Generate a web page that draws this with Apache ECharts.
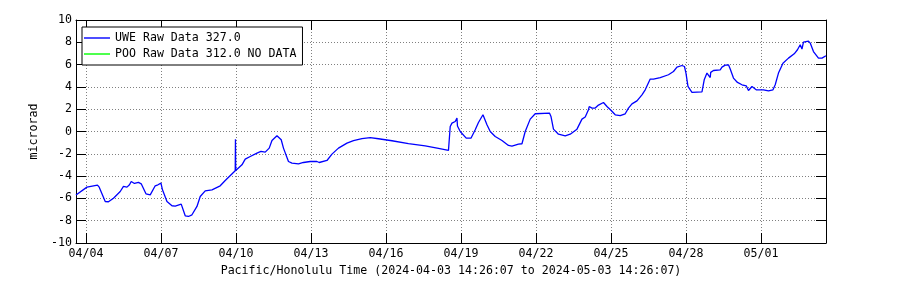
<!DOCTYPE html>
<html>
<head>
<meta charset="utf-8">
<script src="https://cdn.jsdelivr.net/npm/echarts@6/dist/echarts.min.js"></script>
<style>html,body{margin:0;padding:0;background:#fff}#c{width:900px;height:300px}</style>
</head>
<body>
<div id="c"></div>
<script>
// Days since 2024-04-04 00:00 (Pacific/Honolulu)
const xMin = -0.39853; // 2024-04-03 14:26:07
const xMax = 29.60147; // 2024-05-03 14:26:07
const tickDays = [0, 3, 6, 9, 12, 15, 18, 21, 24, 27];
const tickLabels = ['04/04', '04/07', '04/10', '04/13', '04/16', '04/19', '04/22', '04/25', '04/28', '05/01'];
const seriesNames = ['UWE Raw Data 327.0', 'POO Raw Data 312.0 NO DATA'];
const uweDays = [
  -0.40, 0.04, 0.10, 0.46, 0.53, 0.77, 0.90, 1.10, 1.37, 1.50, 1.64, 1.74, 1.81, 1.94, 2.10, 2.21,
  2.40, 2.57, 2.77, 2.88, 3.00, 3.06, 3.24, 3.44, 3.57, 3.81, 3.86, 3.97, 4.10, 4.24, 4.44, 4.57,
  4.77, 5.04, 5.37, 5.57, 5.97, 5.98, 5.99, 6.24, 6.37, 6.57, 6.84, 7.00, 7.17, 7.33, 7.44, 7.64,
  7.81, 7.90, 8.10, 8.24, 8.50, 8.70, 8.97, 9.24, 9.33, 9.64, 9.84, 10.10, 10.44, 10.70, 11.04, 11.37,
  11.70, 12.24, 12.90, 13.57, 14.10, 14.50, 14.57, 14.64, 14.77, 14.84, 14.86, 14.97, 15.21, 15.40,
  15.57, 15.70, 15.88, 15.93, 16.04, 16.17, 16.37, 16.64, 16.90, 17.04, 17.30, 17.44, 17.57, 17.77,
  17.97, 18.54, 18.60, 18.70, 18.90, 19.17, 19.37, 19.64, 19.84, 19.97, 20.10, 20.13, 20.24, 20.37,
  20.50, 20.70, 20.84, 21.01, 21.17, 21.37, 21.57, 21.70, 21.84, 22.04, 22.24, 22.37, 22.57, 22.70,
  22.97, 23.30, 23.50, 23.64, 23.84, 23.94, 24.00, 24.08, 24.24, 24.64, 24.73, 24.84, 24.90, 24.97,
  24.99, 25.10, 25.37, 25.44, 25.57, 25.70, 25.77, 25.90, 26.06, 26.24, 26.41, 26.50, 26.64, 26.81,
  27.10, 27.30, 27.48, 27.57, 27.70, 27.88, 28.10, 28.33, 28.46, 28.57, 28.64, 28.70, 28.90, 28.97,
  29.10, 29.30, 29.44, 29.60
];
const uweValues = [
  -5.70, -4.99, -4.87, -4.81, -4.99, -6.28, -6.30, -5.98, -5.38, -4.93, -4.99, -4.78, -4.48, -4.66, -4.57, -4.69,
  -5.59, -5.68, -4.87, -4.78, -4.63, -5.23, -6.28, -6.66, -6.69, -6.51, -6.51, -7.56, -7.62, -7.47, -6.72, -5.83,
  -5.32, -5.23, -4.87, -4.39, -3.52, -0.70, -3.50, -2.99, -2.48, -2.24, -1.94, -1.79, -1.85, -1.49, -0.81, -0.39,
  -0.74, -1.49, -2.69, -2.84, -2.90, -2.78, -2.69, -2.69, -2.78, -2.60, -2.03, -1.49, -1.04, -0.81, -0.63, -0.54,
  -0.65, -0.83, -1.08, -1.28, -1.52, -1.70, 0.45, 0.75, 0.90, 1.20, 0.50, 0.00, -0.60, -0.60,
  0.15, 0.81, 1.50, 1.40, 0.60, 0.00, -0.45, -0.81, -1.25, -1.31, -1.13, -1.10, 0.00, 1.11,
  1.59, 1.65, 1.35, 0.21, -0.24, -0.39, -0.24, 0.21, 1.11, 1.30, 1.95, 2.24, 2.10, 2.10,
  2.37, 2.60, 2.24, 1.88, 1.50, 1.43, 1.59, 2.10, 2.48, 2.75, 3.29, 3.74, 4.70, 4.70,
  4.84, 5.09, 5.38, 5.77, 5.92, 5.83, 5.24, 4.04, 3.50, 3.56, 4.64, 5.24, 5.24, 4.84,
  5.30, 5.47, 5.53, 5.77, 5.95, 5.98, 5.60, 4.79, 4.40, 4.19, 4.10, 3.68, 4.04, 3.74,
  3.74, 3.65, 3.74, 4.19, 5.24, 6.13, 6.58, 6.97, 7.33, 7.78, 7.39, 8.02, 8.11, 7.93,
  7.17, 6.58, 6.58, 6.79
];
const pooValues = [];

const FONT = 'DejaVu Sans Mono';
const FS = 11.6;
const chart = echarts.init(document.getElementById('c'), null, { renderer: 'canvas' });
const gridLine = { show: true, lineStyle: { color: '#808080', width: 1, type: [1, 2] } };
const tickStyle = { show: true, inside: true, length: 10, lineStyle: { color: '#000', width: 1 } };
const frameLine = { show: true, onZero: false, lineStyle: { color: '#000', width: 1 } };
chart.setOption({
  animation: false,
  backgroundColor: '#fff',
  textStyle: { fontFamily: FONT, fontSize: FS, color: '#000' },
  grid: { left: 76, right: 74, top: 20, bottom: 57, show: false, outerBoundsMode: 'none', containLabel: false },
  legend: {
    left: 82, top: 27, orient: 'vertical',
    backgroundColor: '#fff', borderColor: '#000', borderWidth: 1,
    padding: [4, 6, 4, 2], itemGap: 2, itemWidth: 26, itemHeight: 1.4,
    icon: 'rect',
    textStyle: { fontFamily: FONT, fontSize: FS, color: '#000', lineHeight: 14 },
    data: seriesNames
  },
  xAxis: [{
    type: 'value', position: 'bottom', min: xMin, max: xMax,
    name: 'Pacific/Honolulu Time (2024-04-03 14:26:07 to 2024-05-03 14:26:07)',
    nameLocation: 'middle', nameGap: 16,
    nameTextStyle: { fontFamily: FONT, fontSize: FS, color: '#000' },
    axisLine: frameLine,
    axisTick: Object.assign({ customValues: tickDays }, tickStyle),
    axisLabel: {
      customValues: tickDays, margin: 5, fontFamily: FONT, fontSize: FS, color: '#000',
      formatter: v => { const i = tickDays.findIndex(t => Math.abs(t - v) < 1e-6); return i >= 0 ? tickLabels[i] : ''; }
    },
    splitLine: gridLine
  }, {
    type: 'value', position: 'top', min: xMin, max: xMax,
    axisLine: frameLine,
    axisTick: Object.assign({ customValues: tickDays }, tickStyle),
    axisLabel: { show: false },
    splitLine: { show: false }
  }],
  yAxis: [{
    type: 'value', position: 'left', min: -10, max: 10, interval: 2,
    name: 'microrad', nameLocation: 'middle', nameGap: 36,
    nameTextStyle: { fontFamily: FONT, fontSize: FS, color: '#000' },
    axisLine: frameLine,
    axisTick: tickStyle,
    axisLabel: { margin: 4, fontFamily: FONT, fontSize: FS, color: '#000', showMinLabel: true, showMaxLabel: true },
    splitLine: gridLine
  }, {
    type: 'value', position: 'right', min: -10, max: 10, interval: 2,
    axisLine: frameLine,
    axisTick: tickStyle,
    axisLabel: { show: false },
    splitLine: { show: false }
  }],
  series: [{
    name: seriesNames[0], type: 'line', xAxisIndex: 0, yAxisIndex: 0,
    showSymbol: false, symbol: 'none', color: '#0000ff',
    lineStyle: { color: '#0000ff', width: 1.3 },
    data: uweDays.map((d, i) => [d, uweValues[i]])
  }, {
    name: seriesNames[1], type: 'line', xAxisIndex: 0, yAxisIndex: 0,
    showSymbol: false, symbol: 'none', color: '#00ff00',
    lineStyle: { color: '#00ff00', width: 1.3 },
    data: pooValues
  }]
});
</script>
</body>
</html>
